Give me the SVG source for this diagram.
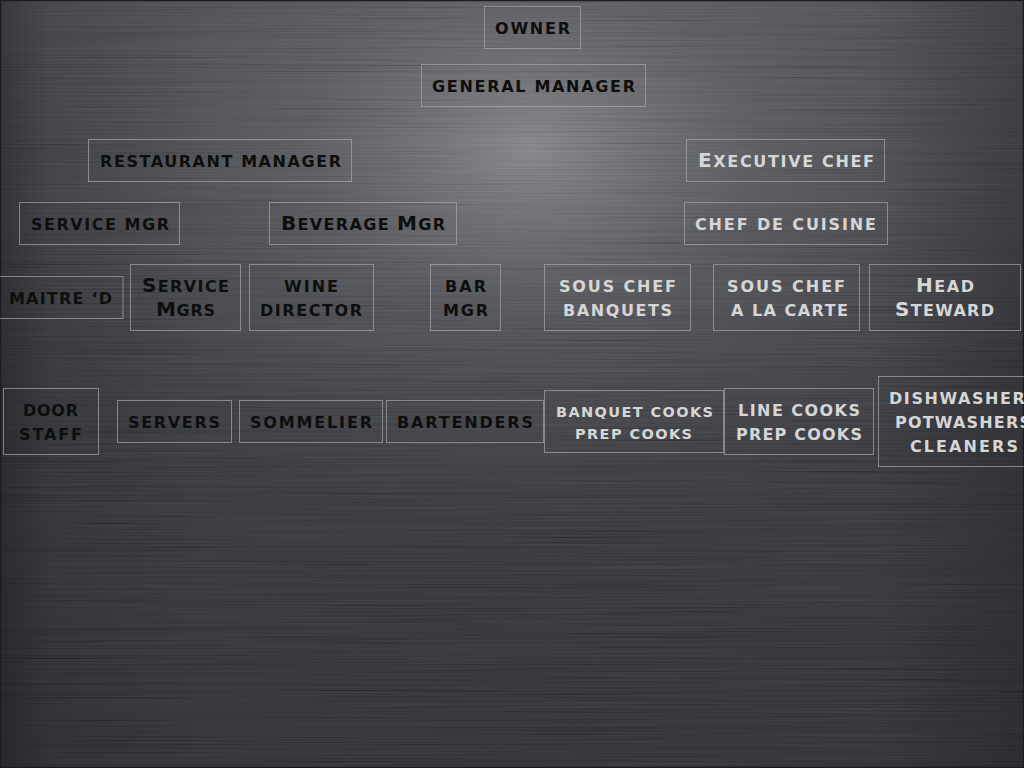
<svg xmlns="http://www.w3.org/2000/svg" width="1024" height="768" viewBox="0 0 1024 768">
<defs>
<linearGradient id="bgv" x1="0" y1="0" x2="0" y2="1">
<stop offset="0" stop-color="#48494e"/>
<stop offset="0.5" stop-color="#36373d"/>
<stop offset="1" stop-color="#2c2d33"/>
</linearGradient>
<radialGradient id="glow" cx="530" cy="150" r="580" gradientUnits="userSpaceOnUse" gradientTransform="translate(530 150) scale(1 0.68) translate(-530 -150)">
<stop offset="0" stop-color="#909094" stop-opacity="0.85"/>
<stop offset="0.4" stop-color="#727278" stop-opacity="0.42"/>
<stop offset="1" stop-color="#505056" stop-opacity="0"/>
</radialGradient>
<linearGradient id="edges" x1="0" y1="0" x2="1" y2="0">
<stop offset="0" stop-color="#000" stop-opacity="0.3"/>
<stop offset="0.05" stop-color="#000" stop-opacity="0.1"/>
<stop offset="0.2" stop-color="#000" stop-opacity="0"/>
<stop offset="0.85" stop-color="#000" stop-opacity="0"/>
<stop offset="1" stop-color="#000" stop-opacity="0.2"/>
</linearGradient>
<filter id="brush" x="0" y="0" width="1024" height="768" filterUnits="userSpaceOnUse">
<feTurbulence type="fractalNoise" baseFrequency="0.004 1.3" numOctaves="2" seed="7"/>
<feColorMatrix type="matrix" values="1.6 0 0 0 -0.3  1.6 0 0 0 -0.3  1.6 0 0 0 -0.3  0 0 0 0 0.08"/>
</filter>
<style>
.box{fill:none;stroke:#a6a6a8;stroke-opacity:0.7;stroke-width:1}
.t{font-family:"DejaVu Sans","Liberation Sans",sans-serif;font-weight:bold;font-size:16px;text-anchor:middle}
.dk{fill:#0e0e0e}
.lt{fill:#d6d6d6}
.b{font-size:20px}
.s{font-size:14.5px}
</style>
</defs>
<g id="background">
<rect x="0" y="0" width="1024" height="768" fill="url(#bgv)"/>
<rect x="0" y="0" width="1024" height="768" fill="url(#glow)"/>
<rect x="0" y="0" width="1024" height="768" filter="url(#brush)"/>
<rect x="0" y="0" width="1024" height="768" fill="url(#edges)"/>
<rect x="0.5" y="0.5" width="1023" height="767" fill="none" stroke="#1c1c1e" stroke-width="1.5"/>
</g>
<g id="connectors"/>
<g id="owner"><rect class="box" x="484.5" y="6.5" width="96" height="42"/><text class="t dk" x="532.5" y="33.5" textLength="75">OWNER</text></g>
<g id="general-manager"><rect class="box" x="421.5" y="64.5" width="224" height="42"/><text class="t dk" x="533.5" y="92" textLength="203">GENERAL MANAGER</text></g>
<g id="restaurant-manager"><rect class="box" x="88.5" y="139.5" width="263" height="42"/><text class="t dk" x="220.5" y="167" textLength="241">RESTAURANT MANAGER</text></g>
<g id="service-mgr"><rect class="box" x="19.5" y="202.5" width="160" height="42"/><text class="t dk" x="100" y="230" textLength="138">SERVICE MGR</text></g>
<g id="beverage-mgr"><rect class="box" x="269.5" y="202.5" width="187" height="42"/><text class="t dk" x="363" y="230" textLength="164"><tspan class="b">B</tspan>EVERAGE <tspan class="b">M</tspan>GR</text></g>
<g id="maitre-d"><rect class="box" x="-1" y="276.5" width="124" height="42"/><text class="t dk" x="60.5" y="304" textLength="103">MAITRE ‘D</text></g>
<g id="service-mgrs"><rect class="box" x="130.5" y="264.5" width="110" height="66"/><text class="t dk" x="185.5" y="292" textLength="87"><tspan class="b">S</tspan>ERVICE</text><text class="t dk" x="185.5" y="316" textLength="59"><tspan class="b">M</tspan>GRS</text></g>
<g id="wine-director"><rect class="box" x="249.5" y="264.5" width="124" height="66"/><text class="t dk" x="311" y="292" textLength="54">WINE</text><text class="t dk" x="311" y="316" textLength="102">DIRECTOR</text></g>
<g id="bar-mgr"><rect class="box" x="430.5" y="264.5" width="70" height="66"/><text class="t dk" x="465.5" y="292" textLength="41">BAR</text><text class="t dk" x="465.5" y="316" textLength="45">MGR</text></g>
<g id="executive-chef"><rect class="box" x="686.5" y="139.5" width="198" height="42"/><text class="t lt" x="786" y="167" textLength="176"><tspan class="b">E</tspan>XECUTIVE CHEF</text></g>
<g id="chef-de-cuisine"><rect class="box" x="684.5" y="202.5" width="203" height="42"/><text class="t lt" x="785.5" y="230" textLength="181">CHEF DE CUISINE</text></g>
<g id="sous-chef-banquets"><rect class="box" x="544.5" y="264.5" width="146" height="66"/><text class="t lt" x="617.5" y="292" textLength="117">SOUS CHEF</text><text class="t lt" x="617.5" y="316" textLength="109">BANQUETS</text></g>
<g id="sous-chef-a-la-carte"><rect class="box" x="713.5" y="264.5" width="146" height="66"/><text class="t lt" x="786" y="292" textLength="118">SOUS CHEF</text><text class="t lt" x="789.5" y="316" textLength="117">A LA CARTE</text></g>
<g id="head-steward"><rect class="box" x="869.5" y="264.5" width="151" height="66"/><text class="t lt" x="945" y="292" textLength="58"><tspan class="b">H</tspan>EAD</text><text class="t lt" x="944.5" y="316" textLength="99"><tspan class="b">S</tspan>TEWARD</text></g>
<g id="door-staff"><rect class="box" x="3.5" y="388.5" width="95" height="66"/><text class="t dk" x="50.5" y="416" textLength="55">DOOR</text><text class="t dk" x="50.5" y="440" textLength="63">STAFF</text></g>
<g id="servers"><rect class="box" x="117.5" y="400.5" width="114" height="42"/><text class="t dk" x="174" y="428" textLength="92">SERVERS</text></g>
<g id="sommelier"><rect class="box" x="239.5" y="400.5" width="143" height="42"/><text class="t dk" x="311" y="428" textLength="122">SOMMELIER</text></g>
<g id="bartenders"><rect class="box" x="386.5" y="400.5" width="157" height="42"/><text class="t dk" x="465" y="428" textLength="136">BARTENDERS</text></g>
<g id="banquet-cooks"><rect class="box" x="544.5" y="390.5" width="179" height="62"/><text class="t lt s" x="634.5" y="416.5" textLength="157">BANQUET COOKS</text><text class="t lt s" x="633.5" y="438.5" textLength="117">PREP COOKS</text></g>
<g id="line-cooks"><rect class="box" x="724.5" y="388.5" width="149" height="66"/><text class="t lt" x="799" y="416" textLength="122">LINE COOKS</text><text class="t lt" x="799" y="440" textLength="126">PREP COOKS</text></g>
<g id="dishwashers"><rect class="box" x="878.5" y="376.5" width="150" height="90"/><text class="t lt" x="963.5" y="404" textLength="149">DISHWASHERS</text><text class="t lt" x="963" y="428" textLength="136">POTWASHERS</text><text class="t lt" x="964" y="452" textLength="108">CLEANERS</text></g>
</svg>
